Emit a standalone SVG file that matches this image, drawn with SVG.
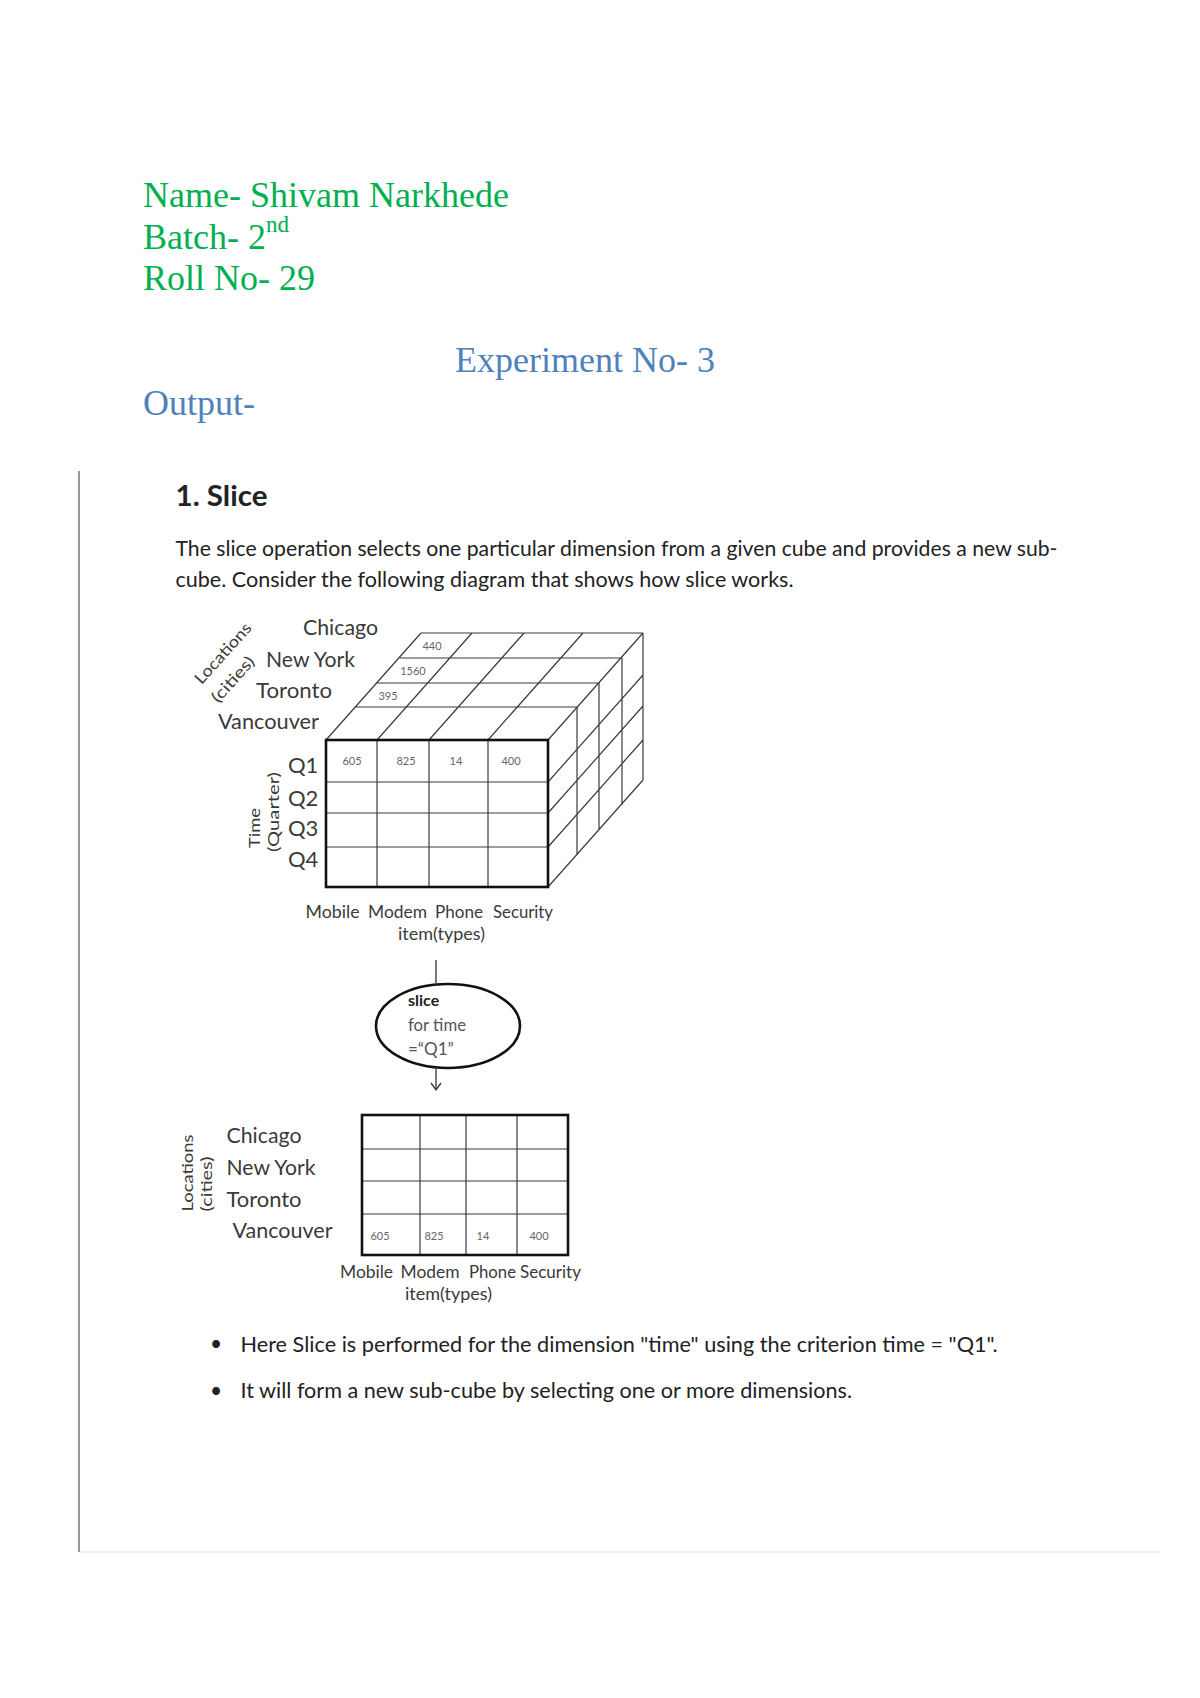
<svg xmlns="http://www.w3.org/2000/svg" width="1200" height="1698" viewBox="0 0 1200 1698">
<style>
.hdr{font-family:"Liberation Serif","Times New Roman",serif;font-size:36px}
.green{fill:#00B050}
.blue{fill:#4F81BD}
.body{font-family:Lato,"Liberation Sans",sans-serif;fill:#222}
.lbl{font-family:Lato,"Liberation Sans",sans-serif;fill:#3a3a3a}
.num{font-family:Lato,"Liberation Sans",sans-serif;fill:#666;font-size:11px;text-anchor:middle}
.thin{stroke:#3a3a3a;stroke-width:1.2;fill:none}
.thick{stroke:#111;stroke-width:2.6;fill:none}
</style>
<rect width="1200" height="1698" fill="#fff"/>
<g id="header">
<text class="hdr green" x="143" y="207">Name- Shivam Narkhede</text>
<text class="hdr green" x="143" y="249">Batch- 2<tspan font-size="23" dy="-17">nd</tspan></text>
<text class="hdr green" x="143" y="290">Roll No- 29</text>
<text class="hdr blue" x="455" y="372">Experiment No- 3</text>
<text class="hdr blue" x="143" y="415">Output-</text>
</g>
<g id="page-frame">
<line x1="79" y1="471" x2="79" y2="1552" stroke="#999" stroke-width="2"/>
<line x1="80" y1="1552" x2="1160" y2="1552" stroke="#ddd" stroke-width="1"/>
</g>
<g id="intro">
<text class="body" x="175.5" y="506" font-size="28" font-weight="bold" textLength="92" lengthAdjust="spacingAndGlyphs">1. Slice</text>
<text class="body" x="175.5" y="556" font-size="21" textLength="882" lengthAdjust="spacingAndGlyphs">The slice operation selects one particular dimension from a given cube and provides a new sub-</text>
<text class="body" x="175.5" y="587" font-size="21" textLength="618" lengthAdjust="spacingAndGlyphs">cube. Consider the following diagram that shows how slice works.</text>
</g>
<g id="cube">
<g id="cube-top">
<path class="thin" d="M355,707H577M377,683H599M400,658H622M421,633H643M326,740L421,633M377,740L472,633M429,740L524,633M488,740L583,633M548,740L643,633"/>
</g>
<g id="cube-side">
<path class="thin" d="M577,707V854M599,683V830M622,658V805M643,633V780M548,782L643,675M548,813L643,706M548,847L643,740M548,887L643,780"/>
</g>
<g id="cube-front">
<path class="thin" d="M377,740V887M429,740V887M488,740V887M326,782H548M326,813H548M326,847H548"/>
<rect class="thick" x="326" y="740" width="222" height="147"/>
</g>
<g id="cube-values">
<text class="num" x="352" y="765">605</text>
<text class="num" x="406" y="765">825</text>
<text class="num" x="456" y="765">14</text>
<text class="num" x="511" y="765">400</text>
<text class="num" x="432" y="650">440</text>
<text class="num" x="413" y="675">1560</text>
<text class="num" x="388" y="700">395</text>
</g>
<g id="cube-labels">
<text class="lbl" x="303" y="635" font-size="21" textLength="75" lengthAdjust="spacingAndGlyphs">Chicago</text>
<text class="lbl" x="266" y="667" font-size="21" textLength="89" lengthAdjust="spacingAndGlyphs">New York</text>
<text class="lbl" x="256" y="698" font-size="21" textLength="76" lengthAdjust="spacingAndGlyphs">Toronto</text>
<text class="lbl" x="218" y="729" font-size="21" textLength="101" lengthAdjust="spacingAndGlyphs">Vancouver</text>
<text class="lbl" x="288" y="773" font-size="22">Q1</text>
<text class="lbl" x="288" y="806" font-size="22">Q2</text>
<text class="lbl" x="288" y="836" font-size="22">Q3</text>
<text class="lbl" x="288" y="867" font-size="22">Q4</text>
<text class="lbl" font-size="16" text-anchor="middle" transform="translate(260,828) rotate(-90)" textLength="40" lengthAdjust="spacingAndGlyphs">Time</text>
<text class="lbl" font-size="16" text-anchor="middle" transform="translate(279,812) rotate(-90)" textLength="80" lengthAdjust="spacingAndGlyphs">(Quarter)</text>
<text class="lbl" font-size="16" text-anchor="middle" transform="translate(227,657) rotate(-48)" textLength="76" lengthAdjust="spacingAndGlyphs">Locations</text>
<text class="lbl" font-size="16" text-anchor="middle" transform="translate(237,683) rotate(-48)" textLength="56" lengthAdjust="spacingAndGlyphs">(cities)</text>
<text class="lbl" x="305.5" y="918" font-size="18" textLength="54" lengthAdjust="spacingAndGlyphs">Mobile</text>
<text class="lbl" x="368" y="918" font-size="18" textLength="59" lengthAdjust="spacingAndGlyphs">Modem</text>
<text class="lbl" x="435" y="918" font-size="18" textLength="48" lengthAdjust="spacingAndGlyphs">Phone</text>
<text class="lbl" x="493" y="918" font-size="18" textLength="60" lengthAdjust="spacingAndGlyphs">Security</text>
<text class="lbl" x="398" y="940" font-size="18" textLength="87" lengthAdjust="spacingAndGlyphs">item(types)</text>
</g>
</g>
<g id="slice-op">
<ellipse cx="448" cy="1026" rx="72" ry="42" fill="#fff" stroke="#111" stroke-width="2.6"/>
<text x="408" y="1006" font-family="Lato,'Liberation Sans',sans-serif" font-size="16" font-weight="bold" fill="#222">slice</text>
<text x="408" y="1031" font-family="Lato,'Liberation Sans',sans-serif" font-size="17" fill="#555" textLength="58" lengthAdjust="spacingAndGlyphs">for time</text>
<text x="408" y="1055" font-family="Lato,'Liberation Sans',sans-serif" font-size="17" fill="#555">=“Q1”</text>
</g>
<g id="connectors">
<line x1="436" y1="960" x2="436" y2="985" stroke="#333" stroke-width="1.3"/>
<line x1="436" y1="1067" x2="436" y2="1090" stroke="#333" stroke-width="1.3"/>
<path d="M431,1083L436,1090L441,1083" fill="none" stroke="#333" stroke-width="1.3"/>
</g>
<g id="slice-table">
<path class="thin" d="M420,1115V1255M466,1115V1255M517,1115V1255M362,1149H568M362,1181H568M362,1214H568"/>
<rect class="thick" x="362" y="1115" width="206" height="140"/>
<text class="num" x="380" y="1240">605</text>
<text class="num" x="434" y="1240">825</text>
<text class="num" x="483" y="1240">14</text>
<text class="num" x="539" y="1240">400</text>
<text class="lbl" x="226.5" y="1143" font-size="21" textLength="75" lengthAdjust="spacingAndGlyphs">Chicago</text>
<text class="lbl" x="226.5" y="1175" font-size="21" textLength="89" lengthAdjust="spacingAndGlyphs">New York</text>
<text class="lbl" x="226.5" y="1207" font-size="21" textLength="75" lengthAdjust="spacingAndGlyphs">Toronto</text>
<text class="lbl" x="232.5" y="1238" font-size="21" textLength="100" lengthAdjust="spacingAndGlyphs">Vancouver</text>
<text class="lbl" font-size="16" text-anchor="middle" transform="translate(193,1173) rotate(-90)" textLength="77" lengthAdjust="spacingAndGlyphs">Locations</text>
<text class="lbl" font-size="16" text-anchor="middle" transform="translate(212,1184) rotate(-90)" textLength="55" lengthAdjust="spacingAndGlyphs">(cities)</text>
<text class="lbl" x="340" y="1278" font-size="18" textLength="53" lengthAdjust="spacingAndGlyphs">Mobile</text>
<text class="lbl" x="400.5" y="1278" font-size="18" textLength="59" lengthAdjust="spacingAndGlyphs">Modem</text>
<text class="lbl" x="469" y="1278" font-size="18" textLength="47" lengthAdjust="spacingAndGlyphs">Phone</text>
<text class="lbl" x="520" y="1278" font-size="18" textLength="61" lengthAdjust="spacingAndGlyphs">Security</text>
<text class="lbl" x="405" y="1300" font-size="18" textLength="87" lengthAdjust="spacingAndGlyphs">item(types)</text>
</g>
<g id="notes">
<text class="body" x="210" y="1351" font-size="21">•</text>
<text class="body" x="240.5" y="1351.5" font-size="21" textLength="757" lengthAdjust="spacingAndGlyphs">Here Slice is performed for the dimension "time" using the criterion time = "Q1".</text>
<text class="body" x="210" y="1398" font-size="21">•</text>
<text class="body" x="240.5" y="1398" font-size="21" textLength="611.5" lengthAdjust="spacingAndGlyphs">It will form a new sub-cube by selecting one or more dimensions.</text>
</g>
</svg>
